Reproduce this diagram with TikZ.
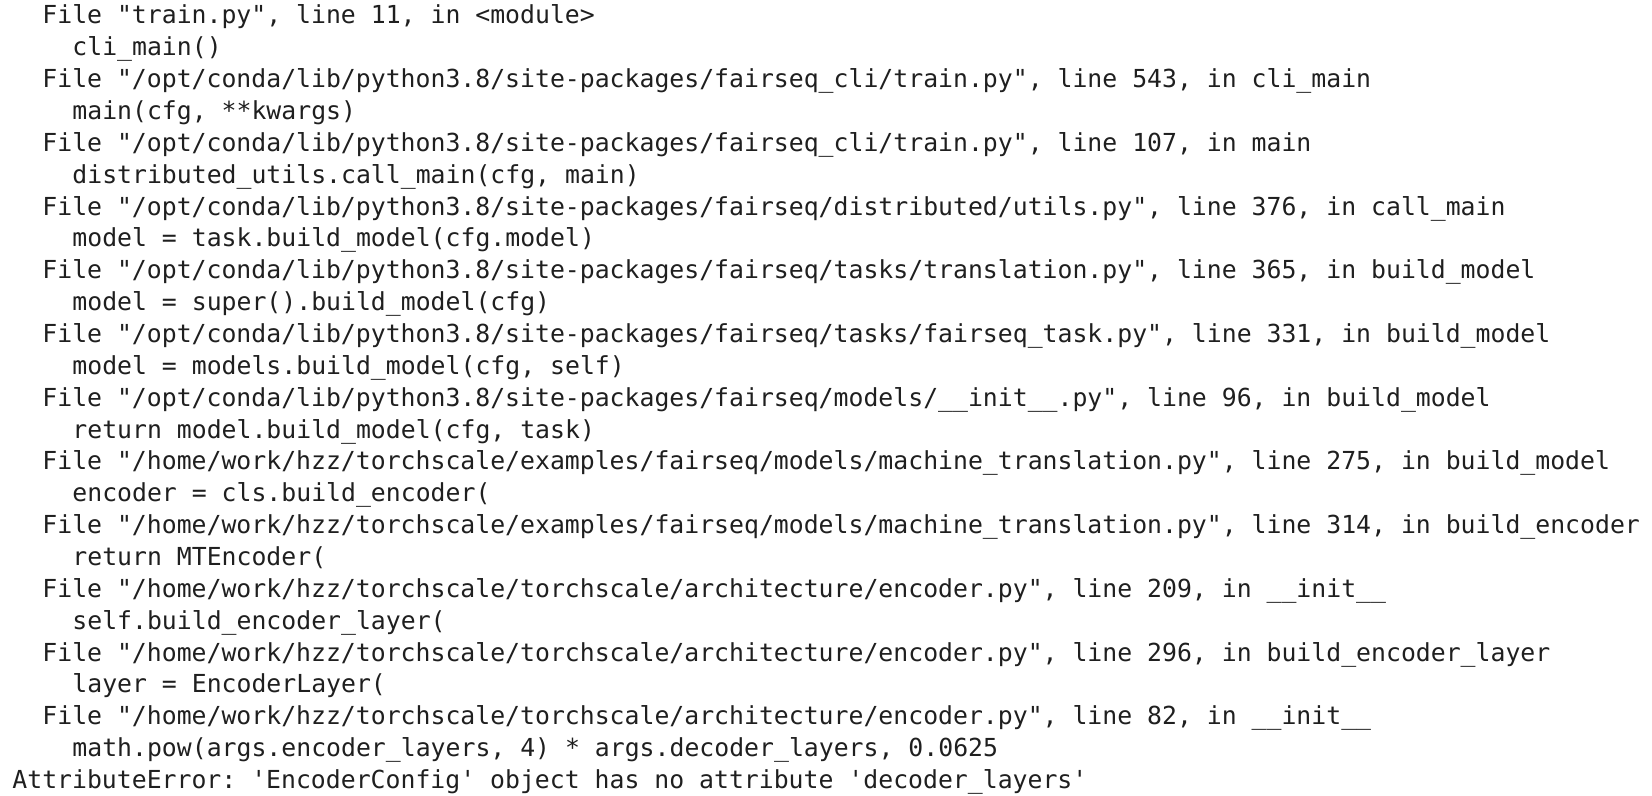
\documentclass[tikz,border=0pt]{standalone}
\usepackage{fontspec}
\setmonofont{DejaVu Sans Mono}
\tikzset{
  tbline/.style={anchor=base west, inner sep=0pt, font=\ttfamily\fontsize{12.4}{14}\selectfont, text=black!88},
}
\begin{document}
\begin{tikzpicture}[x=0.5pt,y=-0.5pt]
  \useasboundingbox (0,0) rectangle (1652,796);
  % traceback lines
  \node[tbline] (l1) at (42,24) {File "train.py", line 11, in <module>};
  \node[tbline] (l2) at (72,55.85) {cli\_main()};
  \node[tbline] (l3) at (42,87.7) {File "/opt/conda/lib/python3.8/site-packages/fairseq\_cli/train.py", line 543, in cli\_main};
  \node[tbline] (l4) at (72,119.55) {main(cfg, **kwargs)};
  \node[tbline] (l5) at (42,151.4) {File "/opt/conda/lib/python3.8/site-packages/fairseq\_cli/train.py", line 107, in main};
  \node[tbline] (l6) at (72,183.25) {distributed\_utils.call\_main(cfg, main)};
  \node[tbline] (l7) at (42,215.1) {File "/opt/conda/lib/python3.8/site-packages/fairseq/distributed/utils.py", line 376, in call\_main};
  \node[tbline] (l8) at (72,246.95) {model = task.build\_model(cfg.model)};
  \node[tbline] (l9) at (42,278.8) {File "/opt/conda/lib/python3.8/site-packages/fairseq/tasks/translation.py", line 365, in build\_model};
  \node[tbline] (l10) at (72,310.65) {model = super().build\_model(cfg)};
  \node[tbline] (l11) at (42,342.5) {File "/opt/conda/lib/python3.8/site-packages/fairseq/tasks/fairseq\_task.py", line 331, in build\_model};
  \node[tbline] (l12) at (72,374.35) {model = models.build\_model(cfg, self)};
  \node[tbline] (l13) at (42,406.2) {File "/opt/conda/lib/python3.8/site-packages/fairseq/models/\_\_init\_\_.py", line 96, in build\_model};
  \node[tbline] (l14) at (72,438.05) {return model.build\_model(cfg, task)};
  \node[tbline] (l15) at (42,469.9) {File "/home/work/hzz/torchscale/examples/fairseq/models/machine\_translation.py", line 275, in build\_model};
  \node[tbline] (l16) at (72,501.75) {encoder = cls.build\_encoder(};
  \node[tbline] (l17) at (42,533.6) {File "/home/work/hzz/torchscale/examples/fairseq/models/machine\_translation.py", line 314, in build\_encoder};
  \node[tbline] (l18) at (72,565.45) {return MTEncoder(};
  \node[tbline] (l19) at (42,597.3) {File "/home/work/hzz/torchscale/torchscale/architecture/encoder.py", line 209, in \_\_init\_\_};
  \node[tbline] (l20) at (72,629.15) {self.build\_encoder\_layer(};
  \node[tbline] (l21) at (42,661) {File "/home/work/hzz/torchscale/torchscale/architecture/encoder.py", line 296, in build\_encoder\_layer};
  \node[tbline] (l22) at (72,692.85) {layer = EncoderLayer(};
  \node[tbline] (l23) at (42,724.7) {File "/home/work/hzz/torchscale/torchscale/architecture/encoder.py", line 82, in \_\_init\_\_};
  \node[tbline] (l24) at (72,756.55) {math.pow(args.encoder\_layers, 4) * args.decoder\_layers, 0.0625};
  \node[tbline] (l25) at (12,788.4) {AttributeError: 'EncoderConfig' object has no attribute 'decoder\_layers'};
\end{tikzpicture}
\end{document}
